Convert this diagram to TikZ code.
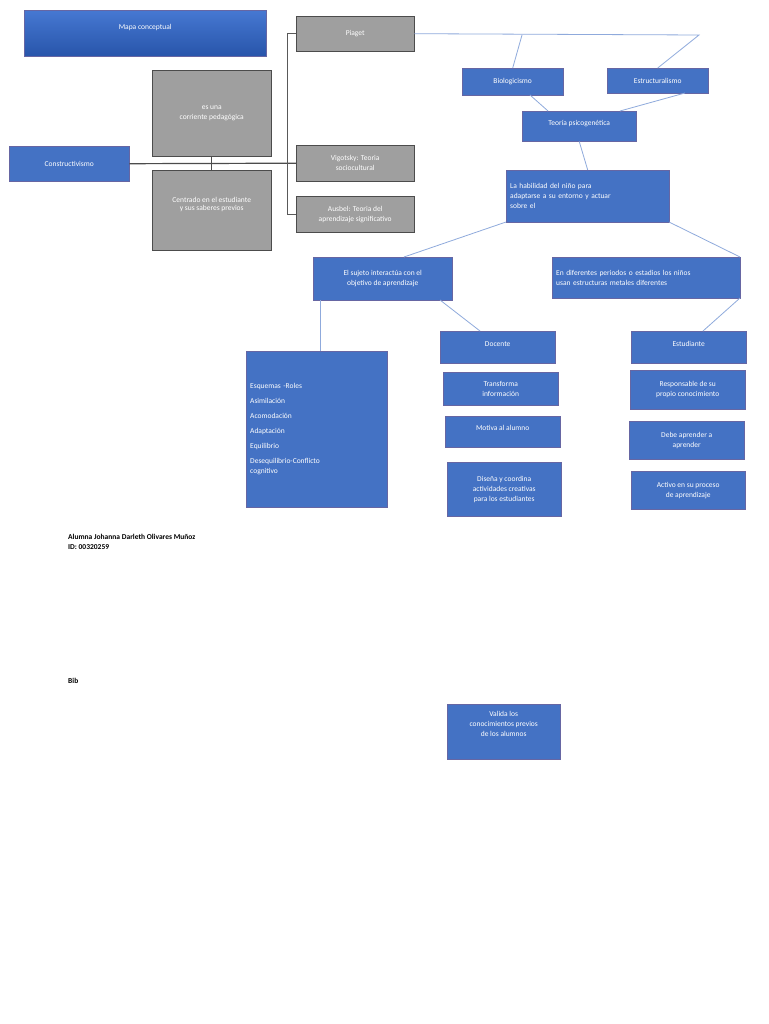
\documentclass[tikz,border=0pt]{standalone}
\usepackage{fontspec}
\setmainfont{Carlito}
\begin{document}
\begin{tikzpicture}[x=1pt,y=-1pt,
 bb/.style={draw=blue!40!black!60,fill={rgb,255:red,68;green,114;blue,196},text=white,font=\fontsize{7.5}{10}\selectfont,align=center,inner sep=1pt},
 gb/.style={draw=gray!60!black,fill=gray!75,text=white,font=\fontsize{7.5}{10}\selectfont,align=center,inner sep=1pt},
 cl/.style={draw={rgb,255:red,143;green,170;blue,220},line width=0.8pt},
 gl/.style={draw=gray!60!black,line width=1.2pt}]
\useasboundingbox (0,0) rectangle (768,1024);
\fill[white] (0,0) rectangle (768,1024);
\newcommand\bx[6]{\node[#1,minimum width=#4-#2,minimum height=#5-#3,text width=#4-#2-6] (#6) at ({(#2+#4)/2},{(#3+#5)/2}) {}; }
% shapes
\node[bb,top color={rgb,255:red,70;green,120;blue,210},bottom color={rgb,255:red,40;green,85;blue,170},minimum width=242,minimum height=46,anchor=north west] (mapa) at (24,10) {\raisebox{12pt}{Mapa conceptual}};
\node[gb,minimum width=118,minimum height=35,anchor=north west] (piaget) at (296,16) {Piaget};
\node[gb,minimum width=119,minimum height=86,anchor=north west] (esuna) at (152,70) {es una\\corriente pedagógica};
\node[bb,minimum width=120,minimum height=35,anchor=north west] (cons) at (9,146) {Constructivismo};
\node[gb,minimum width=119,minimum height=80,anchor=north west] (centr) at (152,170) {\raisebox{12pt}{\shortstack{Centrado en el estudiante\\y sus saberes previos}}};
\node[gb,minimum width=118,minimum height=36,anchor=north west] (vig) at (296,145) {Vigotsky: Teoria\\sociocultural};
\node[gb,minimum width=118,minimum height=36,anchor=north west] (aus) at (296,196) {Ausbel: Teoria del\\aprendizaje significativo};
\node[bb,minimum width=101,minimum height=27,anchor=north west] (bio) at (462,68) {Biologicismo};
\node[bb,minimum width=101,minimum height=25,anchor=north west] (est) at (607,68) {Estructuralismo};
\node[bb,minimum width=114,minimum height=30,anchor=north west] (teo) at (522,111) {\raisebox{6pt}{Teoría psicogenética}};
\node[bb,minimum width=163,minimum height=52,anchor=north west,align=left,text width=155] (hab) at (506,170) {La habilidad del niño para\\adaptarse a su entorno y actuar\\sobre el\\[6pt]};
\node[bb,minimum width=139,minimum height=43,anchor=north west] (suj) at (313,257) {El sujeto interactúa con el\\objetivo de aprendizaje};
\node[bb,minimum width=188,minimum height=41,anchor=north west,align=left,text width=180] (dif) at (552,257) {En diferentes periodos o estadios los niños\\usan estructuras metales diferentes};
\node[bb,minimum width=115,minimum height=32,anchor=north west] (doc) at (440,331) {\raisebox{6pt}{Docente}};
\node[bb,minimum width=115,minimum height=32,anchor=north west] (estu) at (631,331) {\raisebox{6pt}{Estudiante}};
\node[bb,minimum width=141,minimum height=156,anchor=north west,align=left,text width=133] (esq) at (246,351) {\raisebox{0pt}[0pt][0pt]{}Esquemas -Roles\\[5pt]Asimilación\\[5pt]Acomodación\\[5pt]Adaptación\\[5pt]Equilibrio\\[5pt]Desequilibrio-Conflicto\\cognitivo\\[16pt]};
\node[bb,minimum width=115,minimum height=33,anchor=north west] (tra) at (443,372) {Transforma\\información};
\node[bb,minimum width=115,minimum height=31,anchor=north west] (mot) at (445,416) {\raisebox{8pt}{Motiva al alumno}};
\node[bb,minimum width=114,minimum height=54,anchor=north west] (dis) at (447,462) {Diseña y coordina\\actividades creativas\\para los estudiantes};
\node[bb,minimum width=115,minimum height=39,anchor=north west] (res) at (630,370) {Responsable de su\\propio conocimiento};
\node[bb,minimum width=115,minimum height=38,anchor=north west] (deb) at (629,421) {Debe aprender a\\aprender};
\node[bb,minimum width=114,minimum height=38,anchor=north west] (act) at (631,471) {Activo en su proceso\\de aprendizaje};
\node[bb,minimum width=113,minimum height=55,anchor=north west] (val) at (447,704) {Valida los\\conocimientos previos\\de los alumnos\\[6pt]};
\node[anchor=north west,font=\fontsize{7.5}{10}\selectfont\bfseries,align=left,inner sep=0] (alu) at (68,534) {Alumna Johanna Darleth Olivares Muñoz\\ID: 00320259};
\node[anchor=north west,font=\fontsize{7.5}{10}\selectfont\bfseries,inner sep=0] (bib) at (68,678) {Bib};
% connectors
\draw[gl] (cons.east) -- (vig.west);
\draw[gl] (esuna.south) -- (centr.north);
\draw[gray!70!black,line width=0.8pt] (piaget.west) -- ++(-9,0) |- (aus.west);
\draw[cl] (piaget.east) -- (699,35) -- (est.north);
\draw[cl] (522,35) -- (bio.north);
\draw[cl] (530,95) -- (548,111);
\draw[cl] (685,93) -- (620,111);
\draw[cl] (teo.south) -- (hab.north);
\draw[cl] (506,222) -- (404,257);
\draw[cl] (669,222) -- (740,257);
\draw[cl] (320,300) -- (320,351);
\draw[cl] (440,300) -- (480,331);
\draw[cl] (740,298) -- (703,331);
\end{tikzpicture}
\end{document}
